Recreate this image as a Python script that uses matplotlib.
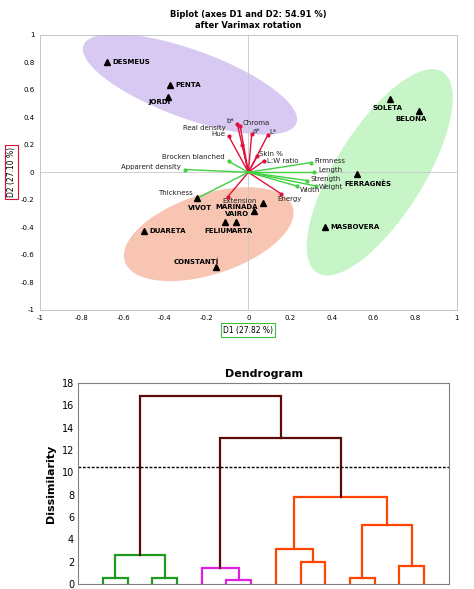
import numpy as np
import matplotlib.pyplot as plt

# Biplot observations
cultivars = ['DESMEUS', 'PENTA', 'JORDI', 'SOLETA', 'BELONA', 'FERRAGNÈS', 'MASBOVERA',
             'VIVOT', 'DUARETA', 'MARINADA', 'VAIRO', 'FELIU', 'MARTA', 'CONSTANTÍ']
obs_x = [-0.68, -0.375, -0.385, 0.68, 0.82, 0.52, 0.365, -0.245, -0.50, 0.07, 0.025, -0.11, -0.06, -0.155]
obs_y = [0.80, 0.635, 0.55, 0.53, 0.445, -0.015, -0.40, -0.19, -0.43, -0.22, -0.285, -0.36, -0.36, -0.69]

# red variables
red_vars = ['b*', 'Chroma', 'Hue', 'Real density', 'a*', 'L*', 'Skin %', 'L:W ratio', 'Extension', 'Energy']
red_x = [-0.053, -0.04, -0.095, -0.029, 0.016, 0.093, 0.042, 0.077, -0.10, 0.157]
red_y = [0.35, 0.34, 0.265, 0.20, 0.28, 0.27, 0.115, 0.085, -0.18, -0.157]
# green variables
green_vars = ['Brocken blanched', 'Apparent density', 'Thickness', 'Firmness', 'Length', 'Strength', 'Weight', 'Width']
green_x = [-0.095, -0.305, -0.247, 0.298, 0.314, 0.28, 0.325, 0.232]
green_y = [0.08, 0.02, -0.19, 0.07, 0.0, -0.06, -0.10, -0.10]

# Dendrogram merges: (left x, right x, left base, right base, height)
dendro_links = [
    (0, 1, 0, 0, 0.5), (2, 3, 0, 0, 0.5), (0.5, 2.5, 0.5, 0.5, 2.6),
    (5, 6, 0, 0, 0.4), (4, 5.5, 0, 0.4, 1.4),
    (8, 9, 0, 0, 2.0), (7, 8.5, 0, 2.0, 3.1),
    (10, 11, 0, 0, 0.5), (12, 13, 0, 0, 1.6), (10.5, 12.5, 0.5, 1.6, 5.3),
    (7.75, 11.5, 3.1, 5.3, 7.8),
    (4.75, 9.625, 1.4, 7.8, 13.1),
    (1.5, 7.1875, 2.6, 13.1, 16.8),
]
dendro_colors = ['#1f9a1f'] * 3 + ['#e020e0'] * 2 + ['#ff4500'] * 6 + ['#5c0a0a'] * 2
cut_level = 10.5

fig = plt.figure(figsize=(4.74, 5.89), dpi=100)

ax = fig.add_axes([0.084, 0.474, 0.88, 0.467])
ax.set_xlim(-1, 1)
ax.set_ylim(-1, 1)
SX, SY = 208, 137  # px per unit


def blob(cx, cy, a, b, ang, color):
    t = np.linspace(0, 2 * np.pi, 200)
    r = np.deg2rad(ang)
    px = a * np.cos(t) * np.cos(r) - b * np.sin(t) * np.sin(r)
    py = a * np.cos(t) * np.sin(r) + b * np.sin(t) * np.cos(r)
    ax.fill(cx + px / SX, cy + py / SY, color=color, lw=0, zorder=0)


blob(-0.28, 0.64, 113, 34, -20, '#d7c9f2')
blob(0.63, 0.0, 118, 44, 58, '#c8f5c8')
blob(-0.19, -0.45, 88, 40, 18, '#f8c5b3')

ax.axhline(0, color='#c8c8c8', lw=0.6, zorder=1)
ax.axvline(0, color='#c8c8c8', lw=0.6, zorder=1)

for n, x, y in zip(red_vars, red_x, red_y):
    ax.plot([0, x], [0, y], color='#e0103a', lw=1, zorder=2)
    ax.plot(x, y, 'o', color='#e0103a', ms=2, zorder=2)
for n, x, y in zip(green_vars, green_x, green_y):
    ax.plot([0, x], [0, y], color='#40d040', lw=1, zorder=2)
    ax.plot(x, y, 'o', color='#40d040', ms=2, zorder=2)

fs = 5
lab_off = {'b*': (-2, 2, 'right'), 'Chroma': (2, 2, 'left'), 'Hue': (-2, 1, 'right'),
           'Real density': (-12, 12, 'right'), 'a*': (1, 2, 'left'), 'L*': (1, 2, 'left'),
           'Skin %': (1, 2, 'left'), 'L:W ratio': (2, 0, 'left'), 'Extension': (-4, -3, 'left'),
           'Energy': (-3, -4, 'left'), 'Brocken blanched': (-3, 3, 'right'),
           'Apparent density': (-3, 2, 'right'), 'Thickness': (-3, 4, 'right'),
           'Firmness': (3, 1, 'left'), 'Length': (3, 2, 'left'), 'Strength': (3, 1, 'left'),
           'Weight': (2, -1, 'left'), 'Width': (2, -3, 'left')}
for n, x, y in zip(red_vars + green_vars, red_x + green_x, red_y + green_y):
    dx, dy, ha = lab_off[n]
    ax.annotate(n, (x, y), xytext=(dx, dy), textcoords='offset points', fontsize=fs,
                ha=ha, va='center', color='#222222', zorder=4)

ax.plot(obs_x, obs_y, '^', color='black', ms=4.5, zorder=3)
obs_off = {'DESMEUS': (4, 0, 'left'), 'PENTA': (4, 0, 'left'), 'JORDI': (-6, -4, 'center'),
           'SOLETA': (-2, -6, 'center'), 'BELONA': (-6, -6, 'center'), 'FERRAGNÈS': (8, -7, 'center'),
           'MASBOVERA': (4, 0, 'left'), 'VIVOT': (2, -7, 'center'), 'DUARETA': (4, 0, 'left'),
           'MARINADA': (-19, -3, 'center'), 'VAIRO': (-12, -1.5, 'center'), 'FELIU': (-7, -6.5, 'center'),
           'MARTA': (2, -6.5, 'center'), 'CONSTANTÍ': (-14, 4, 'center')}
for n, x, y in zip(cultivars, obs_x, obs_y):
    dx, dy, ha = obs_off[n]
    ax.annotate(n, (x, y), xytext=(dx, dy), textcoords='offset points', fontsize=5,
                fontweight='bold', ha=ha, va='center', zorder=4)

ax.set_xticks(np.arange(-1, 1.01, 0.2))
ax.set_yticks(np.arange(-1, 1.01, 0.2))
ax.set_xticklabels(['-1', '-0.8', '-0.6', '-0.4', '-0.2', '0', '0.2', '0.4', '0.6', '0.8', '1'])
ax.set_yticklabels(['-1', '-0.8', '-0.6', '-0.4', '-0.2', '0', '0.2', '0.4', '0.6', '0.8', '1'])
ax.tick_params(labelsize=5, length=0, pad=4)
for s in ax.spines.values():
    s.set_color('#bbbbbb')
    s.set_linewidth(0.6)
ax.set_xlabel('D1 (27.82 %)', fontsize=5.5, labelpad=3,
              bbox=dict(facecolor='white', edgecolor='#40c040', lw=0.8, pad=1.5))
ax.set_ylabel('D2 (27.10 %)', fontsize=5.5, labelpad=3,
              bbox=dict(facecolor='white', edgecolor='#e0103a', lw=0.8, pad=1.5))
ax.set_title('Biplot (axes D1 and D2: 54.91 %)\nafter Varimax rotation', fontsize=6,
             fontweight='bold', pad=5)

# Dendrogram
ax2 = fig.add_axes([0.165, 0.0085, 0.782, 0.3415])
for (xl, xr, bl, br, h), c in zip(dendro_links, dendro_colors):
    ax2.plot([xl, xl, xr, xr], [bl, h, h, br], color=c, lw=1.6, solid_joinstyle='miter')
ax2.axhline(cut_level, color='black', ls='--', lw=1, dashes=(2, 1.2))
ax2.set_xlim(-1, 14)
ax2.set_ylim(0, 18)
ax2.set_yticks(range(0, 19, 2))
ax2.set_xticks([])
ax2.tick_params(labelsize=7, length=0, pad=3)
for s in ax2.spines.values():
    s.set_color('#808080')
    s.set_linewidth(0.8)
ax2.set_ylabel('Dissimilarity', fontsize=8, fontweight='bold')
ax2.set_title('Dendrogram', fontsize=8, fontweight='bold', pad=4)

fig.savefig('out.png', dpi=100)
